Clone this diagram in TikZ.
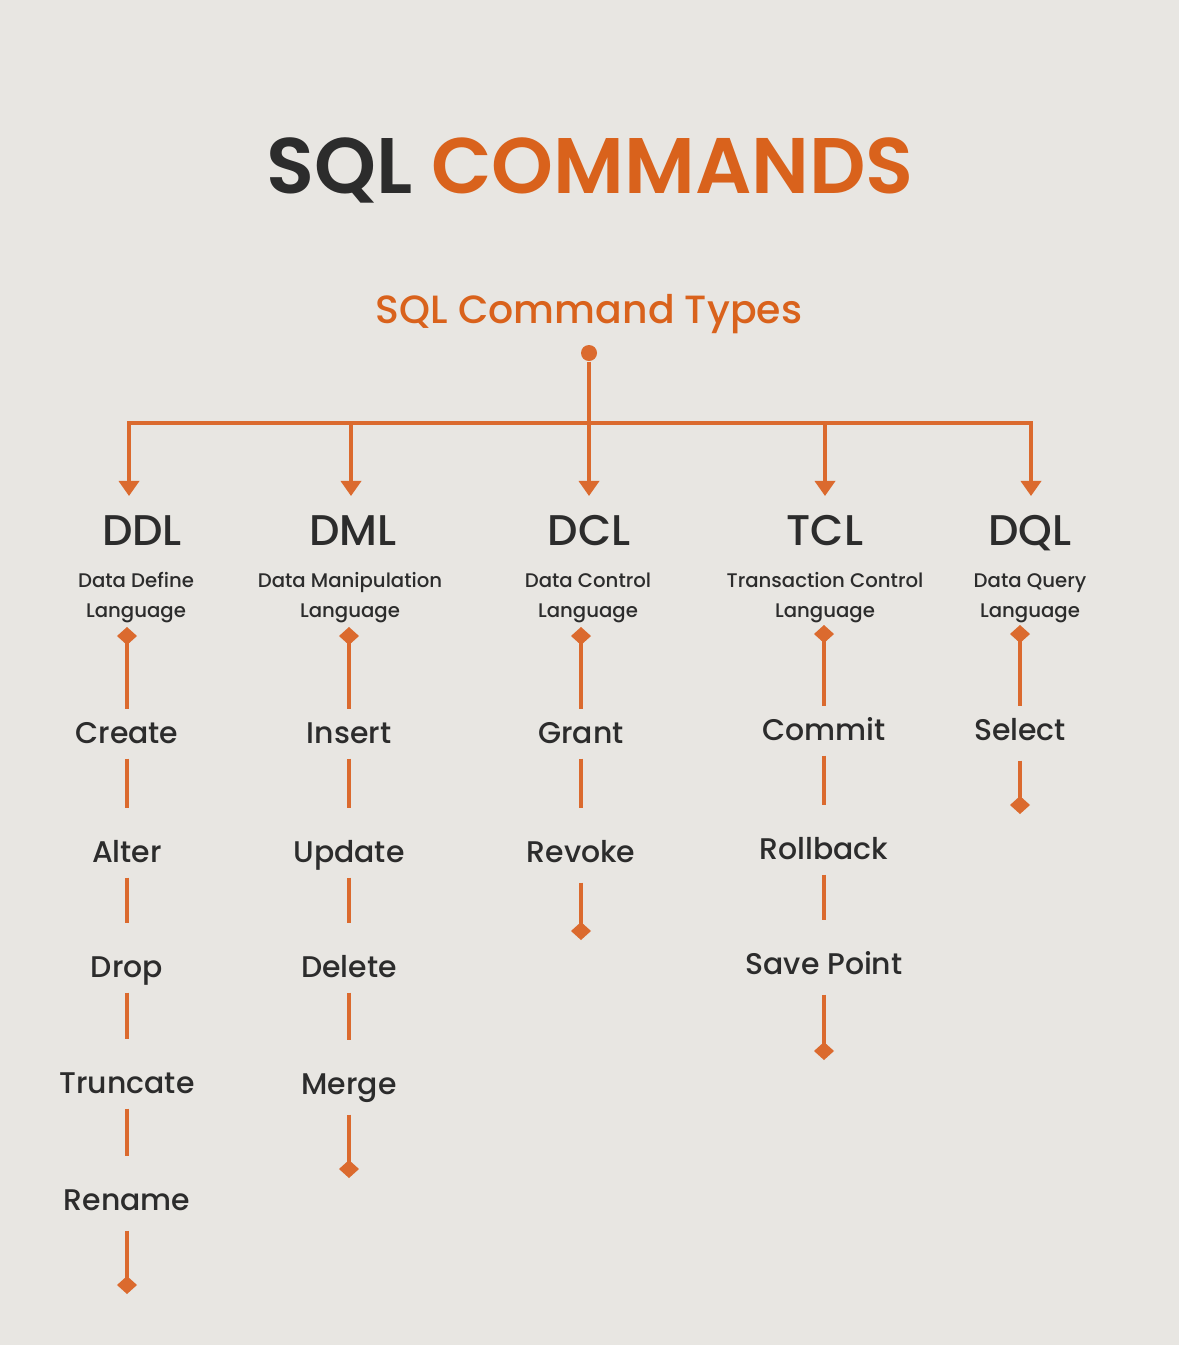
\documentclass[tikz,border=0pt]{standalone}
\usepackage{fontspec}
\setmainfont{Poppins}[UprightFont={* Medium},BoldFont={* SemiBold}]
\usetikzlibrary{arrows.meta}

\definecolor{sqlorange}{HTML}{D9621C}
\definecolor{lineorange}{HTML}{DB6A2E}
\definecolor{ink}{HTML}{2C2C2C}
\definecolor{paper}{HTML}{E8E6E2}

\begin{document}
\begin{tikzpicture}[x=0.01cm,y=-0.01cm,
	conn/.style={draw=lineorange,line width=1pt},
	head/.style={anchor=base,text=ink,inner sep=0pt,font=\fontsize{12.2}{14}\selectfont},
	sub/.style={anchor=base,text=ink,inner sep=0pt,align=center,font=\fontsize{5.6}{8.25}\selectfont},
	cmd/.style={anchor=base,text=ink,inner sep=0pt,text height=0.21cm,text depth=0pt,font=\fontsize{8.5}{10}\selectfont},
	link/.style={conn,shorten <=0.15cm,shorten >=0.32cm},
	first/.style={conn,{Diamond[length=1.8mm,width=2mm]}-,shorten >=0.12cm},
	last/.style={conn,-{Diamond[length=1.8mm,width=2mm]},shorten <=0.2cm},
	down/.style={conn,-{Triangle[length=1.5mm,width=2mm]}}]
	%background and frame of the picture
	\fill[paper] (0,0) rectangle (1179,1345);
	
	%the titles
	\node (title) [anchor=base,inner sep=0pt,font=\fontsize{22.4}{28}\selectfont\bfseries] at (590,193) {\textcolor{ink}{SQL} \textcolor{sqlorange}{COMMANDS}};
	\node (types) [anchor=base,inner sep=0pt,text=sqlorange,font=\fontsize{11.2}{14}\selectfont] at (589,323) {SQL Command Types};
	\node (root) [circle,fill=lineorange,inner sep=0pt,minimum size=0.16cm] at (589,353) {};
	
	%the branching bus
	\coordinate (bus) at (589,423);
	\coordinate (ddlin) at (129,496);
	\coordinate (dmlin) at (351,496);
	\coordinate (dclin) at (589,496);
	\coordinate (tclin) at (825,496);
	\coordinate (dqlin) at (1031,496);
	\draw[conn] (root) -- (bus);
	\draw[down] (bus) -| (ddlin);
	\draw[down] (bus) -| (dmlin);
	\draw[down] (bus) -- (dclin);
	\draw[down] (bus) -| (tclin);
	\draw[down] (bus) -| (dqlin);
	
	%the command types
	\node (ddl) [head] at (142,545) {DDL};
	\node (dml) [head] at (353,545) {DML};
	\node (dcl) [head] at (589,545) {DCL};
	\node (tcl) [head] at (825,545) {TCL};
	\node (dql) [head] at (1030,545) {DQL};
	\node (ddlsub) [sub] at (136,617) {Data Define\\Language};
	\node (dmlsub) [sub] at (350,617) {Data Manipulation\\Language};
	\node (dclsub) [sub] at (588,617) {Data Control\\Language};
	\node (tclsub) [sub] at (825,617) {Transaction Control\\Language};
	\node (dqlsub) [sub] at (1030,617) {Data Query\\Language};
	
	%DDL commands
	\coordinate (ddltop) at (127,627);
	\coordinate (ddlend) at (127,1294);
	\node (create) [cmd] at (127,743) {Create};
	\node (alter) [cmd] at (127,862) {Alter};
	\node (drop) [cmd] at (127,977) {Drop};
	\node (truncate) [cmd] at (127,1093) {Truncate};
	\node (rename) [cmd] at (127,1210) {Rename};
	\draw[first] (ddltop) -- (create.north);
	\draw[link] (create.south) -- (alter.north);
	\draw[link] (alter.south) -- (drop.north);
	\draw[link] (drop.south) -- (truncate.north);
	\draw[link] (truncate.south) -- (rename.north);
	\draw[last] (rename.south) -- (ddlend);
	
	%DML commands
	\coordinate (dmltop) at (349,627);
	\coordinate (dmlend) at (349,1178);
	\node (insert) [cmd] at (349,743) {Insert};
	\node (update) [cmd] at (349,862) {Update};
	\node (delete) [cmd] at (349,977) {Delete};
	\node (merge) [cmd] at (349,1094) {Merge};
	\draw[first] (dmltop) -- (insert.north);
	\draw[link] (insert.south) -- (update.north);
	\draw[link] (update.south) -- (delete.north);
	\draw[link] (delete.south) -- (merge.north);
	\draw[last] (merge.south) -- (dmlend);
	
	%DCL commands
	\coordinate (dcltop) at (581,627);
	\coordinate (dclend) at (581,940);
	\node (grant) [cmd] at (581,743) {Grant};
	\node (revoke) [cmd] at (581,862) {Revoke};
	\draw[first] (dcltop) -- (grant.north);
	\draw[link] (grant.south) -- (revoke.north);
	\draw[last] (revoke.south) -- (dclend);
	
	%TCL commands
	\coordinate (tcltop) at (824,625);
	\coordinate (tclend) at (824,1060);
	\node (commit) [cmd] at (824,740) {Commit};
	\node (rollback) [cmd] at (824,859) {Rollback};
	\node (savepoint) [cmd] at (824,974) {Save Point};
	\draw[first] (tcltop) -- (commit.north);
	\draw[link] (commit.south) -- (rollback.north);
	\draw[link] (rollback.south) -- (savepoint.north);
	\draw[last] (savepoint.south) -- (tclend);
	
	%DQL commands
	\coordinate (dqltop) at (1020,625);
	\coordinate (dqlend) at (1020,814);
	\node (select) [cmd] at (1020,740) {Select};
	\draw[first] (dqltop) -- (select.north);
	\draw[last] (select.south) -- (dqlend);
\end{tikzpicture}
\end{document}
